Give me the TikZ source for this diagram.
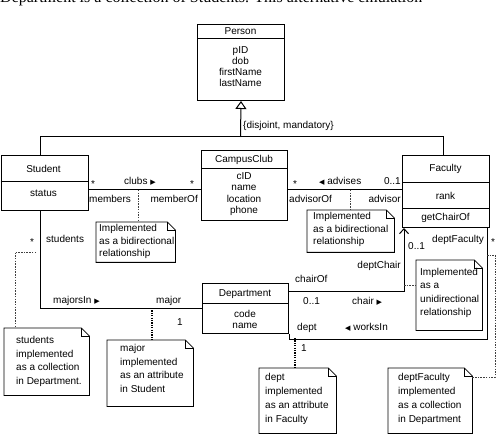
\documentclass[tikz,border=0pt]{standalone}
\usepackage{fontspec}
\setmainfont{Liberation Sans}
\newfontfamily\serifbody{Liberation Serif}
\newfontfamily\symfont{DejaVu Sans}
\usetikzlibrary{arrows.meta}
\newcommand\rtri{{\symfont\fontsize{7}{7}\selectfont ▶}}
\newcommand\ltri{{\symfont\fontsize{7}{7}\selectfont ◀}}
\newcommand\notedraw[1]{%
  \draw[noteline] (#1.north west) -- ([xshift=-8pt]#1.north east) -- ([yshift=-8pt]#1.north east) -- (#1.south east) -- (#1.south west) -- cycle;
  \draw[noteline] ([xshift=-8pt]#1.north east) -- ([xshift=-8pt,yshift=-8pt]#1.north east) -- ([yshift=-8pt]#1.north east);}
\begin{document}
\begin{tikzpicture}[x=1pt,y=-1pt,
  every node/.style={inner sep=0pt, font=\fontsize{10}{12}\selectfont},
  box/.style={draw, line width=1pt, anchor=north west},
  assoc/.style={line width=1pt},
  noteline/.style={line width=0.8pt},
  notetext/.style={anchor=north west, align=left},
  notebox/.style={anchor=north west},
  lab/.style={anchor=base west},
  labe/.style={anchor=base east},
  labc/.style={anchor=base},
  link/.style={line width=0.6pt, dash pattern=on 1.5pt off 1.2pt, black!75},
  linkb/.style={line width=1.1pt, dash pattern=on 1.2pt off 1.2pt},
]
\useasboundingbox (0,0) rectangle (500,435);

% clipped line of body text at the top
\begin{scope}
\clip (0,0) rectangle (500,8);
\node[anchor=base west, font=\serifbody\fontsize{16}{16}\selectfont] (toptext) at (0,3) {Department is a collection of Students. This alternative emulation};
\end{scope}

% ---------- classes ----------
\node[box, minimum width=87pt, minimum height=76pt] (per) at (197,24) {};
\draw[assoc] ([yshift=-15pt]per.north west) -- ([yshift=-15pt]per.north east);
\node[labc] (perN) at (240.5,35) {Person};
\node[anchor=north, align=center, font=\fontsize{10}{11.3}\selectfont] (perA) at (240.5,46) {pID\\dob\\firstName\\lastName};

\node[box, minimum width=87pt, minimum height=55pt] (stu) at (0.5,155) {};
\draw[assoc] ([yshift=-27pt]stu.north west) -- ([yshift=-27pt]stu.north east);
\node[labc] (stuN) at (43.5,173) {Student};
\node[labc] (stuA) at (43.5,197) {status};

\node[box, minimum width=86pt, minimum height=70pt] (club) at (201,150) {};
\draw[assoc] ([yshift=-19pt]club.north west) -- ([yshift=-19pt]club.north east);
\node[labc] (clubN) at (244,162.5) {CampusClub};
\node[anchor=north, align=center, font=\fontsize{10}{11.5}\selectfont] (clubA) at (244,172) {cID\\name\\location\\phone};

\node[box, minimum width=87pt, minimum height=72pt] (fac) at (402,155) {};
\draw[assoc] ([yshift=-28pt]fac.north west) -- ([yshift=-28pt]fac.north east);
\draw[assoc] ([yshift=-54pt]fac.north west) -- ([yshift=-54pt]fac.north east);
\node[labc] (facN) at (445.5,172) {Faculty};
\node[labc] (facA) at (445.5,200) {rank};
\node[labc] (facO) at (445.5,221) {getChairOf};

\node[box, minimum width=86pt, minimum height=50pt] (dep) at (202,283) {};
\draw[assoc] ([yshift=-20pt]dep.north west) -- ([yshift=-20pt]dep.north east);
\node[labc] (depN) at (245,296) {Department};
\node[anchor=north, align=center, font=\fontsize{10}{11}\selectfont] (depA) at (245,310) {code\\name};

% ---------- generalization ----------
\coordinate (gm) at (240.5,137);
\coordinate (gs) at (40,137);
\coordinate (gf) at (443,137);
\draw[assoc, -{Triangle[open, length=8pt, width=11pt]}] (gm) -- (per.south);
\draw[assoc] (stu.north -| gs) |- (gf) -- (fac.north -| gf);
\node[lab] (disj) at (243,129) {\{disjoint, mandatory\}};

% ---------- associations ----------
\coordinate (ya) at (0,190);
\draw[assoc] (stu.east |- ya) -- (club.west |- ya);
\draw[assoc] (club.east |- ya) -- (fac.west |- ya);
\draw[assoc] (stu.south -| gs) |- (dep.west |- 0,308);
\draw[assoc, -{Straight Barb[length=5pt, width=9pt]}] (dep.east |- 0,292) -| (fac.south -| 404,0);
\draw[assoc] (dep.south east) -- ++(0,5) -| (fac.south -| 487,0);

% labels: clubs
\node[labc] (m1) at (93,188) {*};
\node[lab] (clubs) at (124,185) {clubs \rtri};
\node[labc] (m2) at (192,188) {*};
\node[lab] (members) at (89,203) {members};
\node[labe] (memberOf) at (198,203) {memberOf};
% labels: advises
\node[labc] (m3) at (295,188) {*};
\node[lab] (advises) at (319,185) {\ltri{} advises};
\node[labe] (m4) at (401,185) {0..1};
\node[lab] (advisorOf) at (289,203) {advisorOf};
\node[labe] (advisor) at (401,203) {advisor};
% labels: majorsIn
\node[labc] (m5) at (32,246) {*};
\node[lab] (students) at (46,243) {students};
\node[lab] (majorsIn) at (53,304) {majorsIn \rtri};
\node[lab] (major) at (156,304) {major};
\node[lab] (m6) at (177,325) {1};
% labels: chair
\node[labe] (deptChair) at (401,269) {deptChair};
\node[lab] (chairOf) at (295,283) {chairOf};
\node[lab] (m7) at (303,305) {0..1};
\node[lab] (chair) at (352,305) {chair \rtri};
\node[lab] (m8) at (408,250) {0..1};
% labels: worksIn
\node[lab] (deptFaculty) at (432,243) {deptFaculty};
\node[labc] (m9) at (493,246) {*};
\node[lab] (dept) at (297,330) {dept};
\node[lab] (worksIn) at (345,330) {\ltri{} worksIn};
\node[lab] (m10) at (301,351) {1};

% ---------- notes ----------
\node[notebox, minimum width=79pt, minimum height=40pt] (n1) at (96,222) {};
\notedraw{n1}
\node[notetext, font=\fontsize{10}{12.5}\selectfont] (n1t) at (99,224.5) {Implemented\\as a bidirectional\\relationship};

\node[notebox, minimum width=87pt, minimum height=42pt] (n2) at (307,210) {};
\notedraw{n2}
\node[notetext, font=\fontsize{10}{12.5}\selectfont] (n2t) at (313,212.5) {Implemented\\as a bidirectional\\relationship};

\node[notebox, minimum width=85pt, minimum height=67pt] (n3) at (4,328) {};
\notedraw{n3}
\node[notetext, font=\fontsize{10}{13.7}\selectfont] (n3t) at (16,336) {students\\implemented\\as a collection\\in Department.};

\node[notebox, minimum width=86pt, minimum height=66pt] (n4) at (107,340) {};
\notedraw{n4}
\node[notetext, font=\fontsize{10}{13.7}\selectfont] (n4t) at (120,344) {major\\implemented\\as an attribute\\in Student};

\node[notebox, minimum width=66pt, minimum height=70pt] (n5) at (416,260) {};
\notedraw{n5}
\node[notetext, font=\fontsize{10}{13.5}\selectfont] (n5t) at (420,268) {Implemented\\as a\\unidirectional\\relationship};

\node[notebox, minimum width=77pt, minimum height=65pt] (n6) at (259,368) {};
\notedraw{n6}
\node[notetext, font=\fontsize{10}{14}\selectfont] (n6t) at (265,373) {dept\\implemented\\as an attribute\\in Faculty};

\node[notebox, minimum width=84pt, minimum height=65pt] (n7) at (388,368) {};
\notedraw{n7}
\node[notetext, font=\fontsize{10}{14}\selectfont] (n7t) at (398,373) {deptFaculty\\implemented\\as a collection\\in Department};

% ---------- note links ----------
\coordinate (c1) at (138,190);
\draw[link] (c1) -- (c1 |- n1.north);
\coordinate (c2) at (350,190);
\draw[link] (c2) -- (c2 |- n2.north);
\coordinate (c3) at (36,252);
\coordinate (c3b) at (15,252);
\draw[link] (c3) -- (c3b) -- (c3b |- n3.north);
\coordinate (c4) at (152,308);
\draw[linkb] (c4) -- (c4 |- n4.north);
\coordinate (c5) at (404,285);
\draw[link] (c5) -- (n5.west |- c5);
\coordinate (c6) at (295,338);
\draw[linkb] (c6) -- (c6 |- n6.north);
\coordinate (c7) at (487,255);
\coordinate (c7b) at (495,255);
\coordinate (c7c) at (495,377);
\draw[link] (c7) -- (c7b) -- (c7c) -- (n7.east |- c7c);
\end{tikzpicture}
\end{document}
